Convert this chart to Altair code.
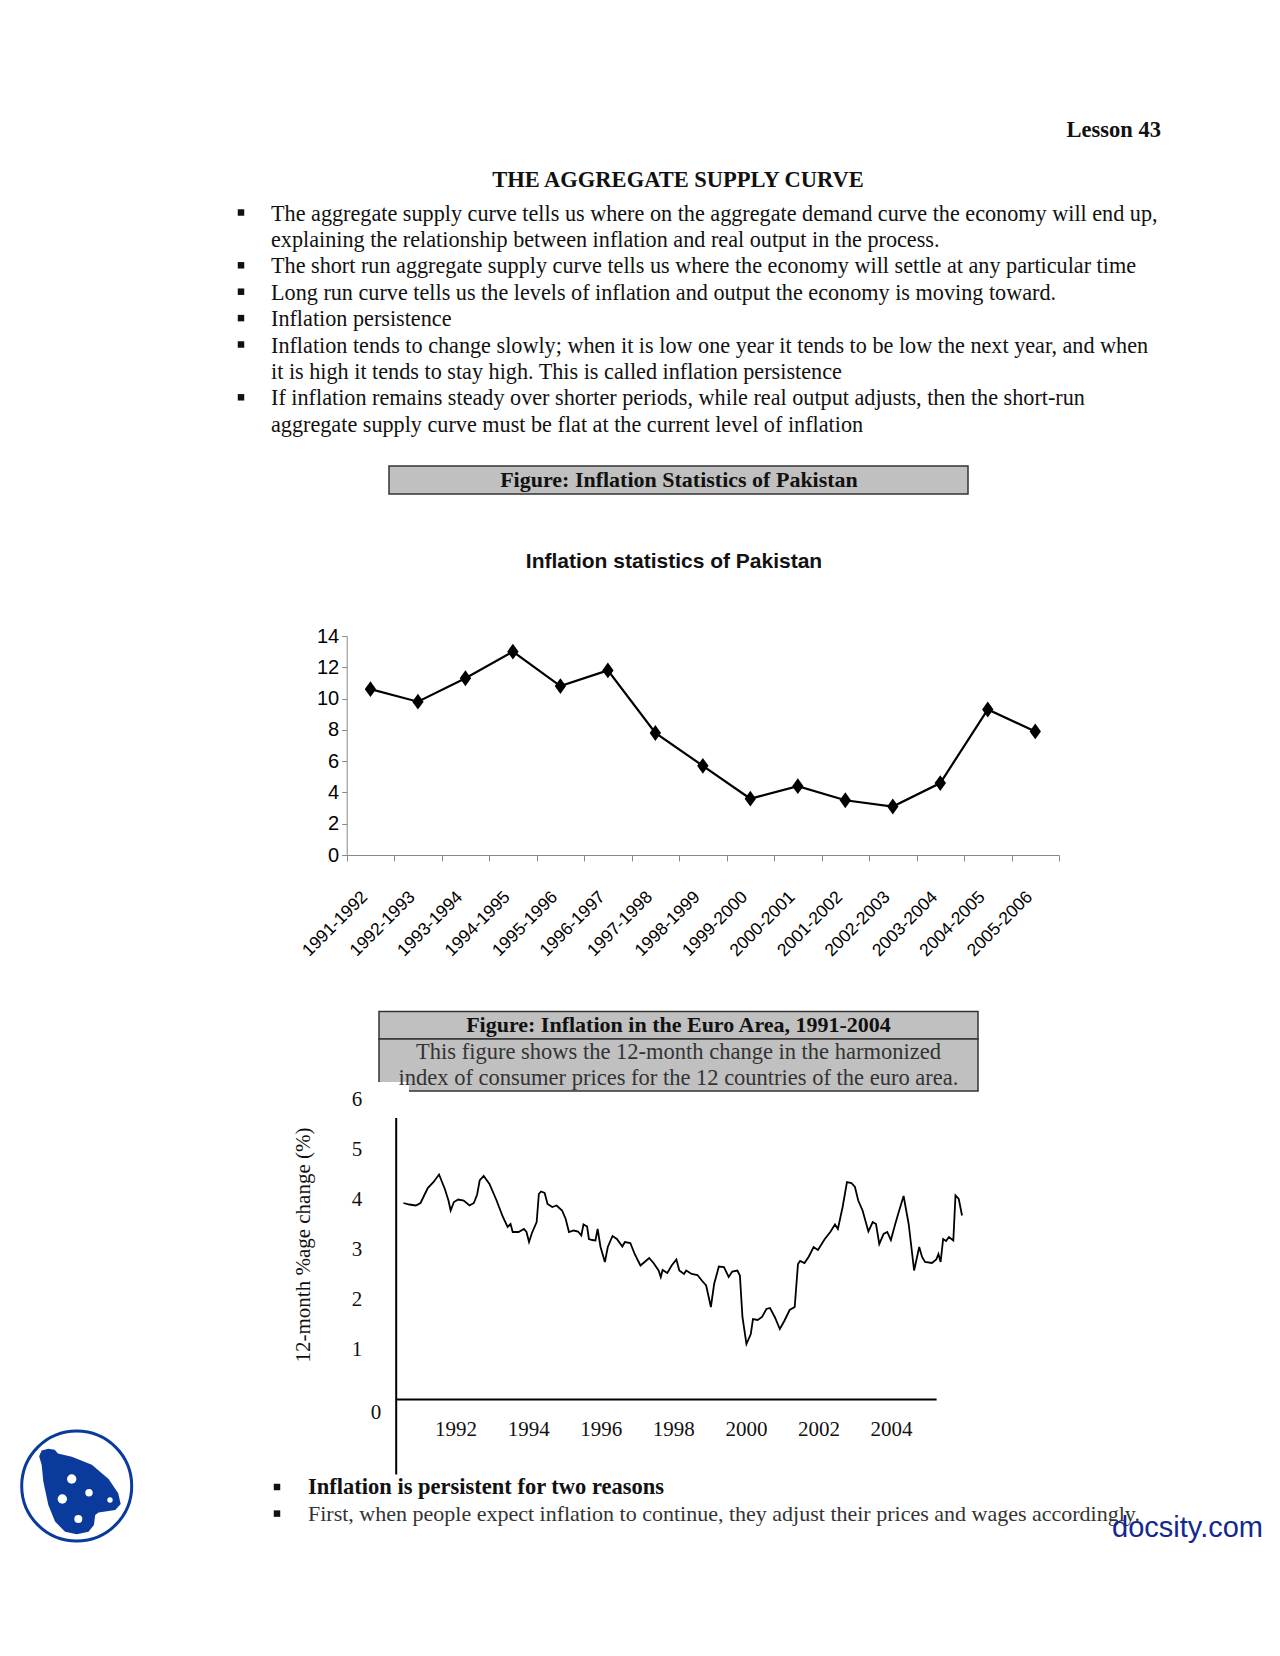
import altair as alt
import pandas as pd

# ---------------- data ----------------
pk_periods = ["1991-1992", "1992-1993", "1993-1994", "1994-1995", "1995-1996",
              "1996-1997", "1997-1998", "1998-1999", "1999-2000", "2000-2001",
              "2001-2002", "2002-2003", "2003-2004", "2004-2005", "2005-2006"]
pk_inflation = [10.6, 9.8, 11.3, 13.0, 10.8, 11.8, 7.8, 5.7, 3.6, 4.4, 3.5, 3.1, 4.6, 9.3, 7.9]
pk_ticks = [0, 2, 4, 6, 8, 10, 12, 14]

euro_time = [
    1990.55, 1990.71, 1990.89, 1991.02, 1991.14, 1991.22, 1991.38, 1991.53, 1991.69, 1991.79,
    1991.85, 1991.94, 1992.06, 1992.21, 1992.37, 1992.49, 1992.58, 1992.65, 1992.76, 1992.92,
    1993.11, 1993.29, 1993.42, 1993.50, 1993.56, 1993.72, 1993.87, 1993.94, 1994.01, 1994.09,
    1994.22, 1994.28, 1994.34, 1994.44, 1994.52, 1994.65, 1994.77, 1994.92, 1995.02, 1995.11,
    1995.24, 1995.36, 1995.45, 1995.51, 1995.61, 1995.66, 1995.75, 1995.84, 1995.90, 1995.98,
    1996.10, 1996.18, 1996.31, 1996.43, 1996.58, 1996.65, 1996.80, 1996.92, 1997.08, 1997.21,
    1997.32, 1997.44, 1997.58, 1997.64, 1997.69, 1997.82, 1997.94, 1998.07, 1998.15, 1998.28,
    1998.34, 1998.49, 1998.65, 1998.77, 1998.89, 1999.02, 1999.11, 1999.24, 1999.38, 1999.51,
    1999.61, 1999.75, 1999.82, 1999.89, 2000.00, 2000.12, 2000.18, 2000.31, 2000.43, 2000.55,
    2000.65, 2000.78, 2000.92, 2001.05, 2001.19, 2001.33, 2001.42, 2001.48, 2001.60, 2001.72,
    2001.85, 2001.97, 2002.15, 2002.31, 2002.44, 2002.52, 2002.65, 2002.77, 2002.89, 2002.99,
    2003.08, 2003.20, 2003.36, 2003.48, 2003.57, 2003.66, 2003.78, 2003.88, 2003.98, 2004.10,
    2004.18, 2004.33, 2004.47, 2004.62, 2004.76, 2004.84, 2004.92, 2005.11, 2005.23, 2005.29,
    2005.35, 2005.42, 2005.50, 2005.58, 2005.70, 2005.76, 2005.85, 2005.94]
euro_value = [
    3.93, 3.90, 3.88, 3.93, 4.11, 4.23, 4.35, 4.50, 4.21, 3.98,
    3.78, 3.95, 4.00, 3.98, 3.88, 3.93, 4.10, 4.38, 4.47, 4.31,
    3.99, 3.65, 3.45, 3.51, 3.35, 3.35, 3.41, 3.35, 3.15, 3.33,
    3.55, 4.11, 4.16, 4.13, 3.91, 3.85, 3.88, 3.78, 3.61, 3.35,
    3.38, 3.36, 3.28, 3.50, 3.46, 3.21, 3.19, 3.18, 3.41, 3.05,
    2.75, 3.05, 3.27, 3.21, 3.06, 3.15, 3.13, 2.91, 2.68, 2.76,
    2.83, 2.73, 2.58, 2.45, 2.59, 2.53, 2.68, 2.80, 2.58, 2.51,
    2.58, 2.51, 2.49, 2.38, 2.28, 1.85, 2.31, 2.66, 2.65, 2.45,
    2.56, 2.58, 2.48, 1.65, 1.11, 1.31, 1.61, 1.59, 1.65, 1.81,
    1.83, 1.65, 1.41, 1.58, 1.79, 1.85, 2.71, 2.77, 2.73, 2.86,
    3.05, 2.99, 3.20, 3.35, 3.50, 3.41, 3.85, 4.35, 4.33, 4.25,
    3.98, 3.78, 3.36, 3.55, 3.51, 3.11, 3.31, 3.35, 3.19, 3.51,
    3.71, 4.07, 3.51, 2.58, 3.05, 2.85, 2.75, 2.73, 2.80, 2.91,
    2.75, 3.21, 3.17, 3.25, 3.18, 4.08, 4.01, 3.68]
euro_year_labels = [1992, 1994, 1996, 1998, 2000, 2002, 2004]
euro_value_labels = [1, 2, 3, 4, 5, 6]
euro_axis_x = [1990.35, 2005.24]      # extent of the drawn horizontal axis (years)
euro_axis_y = [-1.5, 5.63]            # extent of the drawn vertical axis (values)

bullet_lines = [
    "The aggregate supply curve tells us where on the aggregate demand curve the economy will end up,",
    "explaining the relationship between inflation and real output in the process.",
    "The short run aggregate supply curve tells us where the economy will settle at any particular time",
    "Long run curve tells us the levels of inflation and output the economy is moving toward.",
    "Inflation persistence",
    "Inflation tends to change slowly; when it is low one year it tends to be low the next year, and when",
    "it is high it tends to stay high.  This is called inflation persistence",
    "If inflation remains steady over shorter periods, while real output adjusts, then the short-run",
    "aggregate supply curve must be flat at the current level of inflation",
]
bullet_marks = [0, 2, 3, 4, 5, 7]

W, H = 1264, 1640
SERIF = "Liberation Serif"
SANS = "Liberation Sans"
one = pd.DataFrame({"k": [0]})


def txt(s, x, y, size=20, weight="normal", align="left", font=SERIF, color="#111", angle=0):
    return alt.Chart(one).mark_text(
        text=s, font=font, fontSize=size, fontWeight=weight, align=align,
        baseline="middle", color=color, angle=angle
    ).encode(x=alt.value(x), y=alt.value(y))


def box(x1, x2, y1, y2, fill="#c0c0c0", stroke="#333", sw=1.5):
    kw = dict(fill=fill)
    if stroke:
        kw.update(stroke=stroke, strokeWidth=sw)
    return alt.Chart(one).mark_rect(**kw).encode(
        x=alt.value(x1), x2=alt.value(x2), y=alt.value(y1), y2=alt.value(y2))


def sq(x, y, size=42):
    return alt.Chart(one).mark_point(shape="square", size=size, filled=True, color="#111", opacity=1).encode(
        x=alt.value(x), y=alt.value(y))


layers = []
# header
layers.append(txt("Lesson 43", 1153, 122, size=22.5, weight="bold", align="right"))
layers.append(txt("THE AGGREGATE SUPPLY CURVE", 670, 172, size=22.5, weight="bold", align="center"))
for i, line in enumerate(bullet_lines):
    y = 205.5 + i * 26.4
    layers.append(txt(line, 263, y, size=22.2))
    if i in bullet_marks:
        layers.append(sq(233, y - 1))

# figure box 1
layers.append(box(381, 960, 458, 486))
layers.append(txt("Figure: Inflation Statistics of Pakistan", 671, 472, size=22, weight="bold", align="center"))
layers.append(txt("Inflation statistics of Pakistan", 666, 554, size=21, weight="bold",
                  align="center", font=SANS))

# ---------------- chart 1 ----------------
pk = pd.DataFrame({"period": pk_periods, "inflation": pk_inflation})
x1 = alt.X("period:N", sort=None,
           scale=alt.Scale(domain=pk_periods, range=[338.7, 1051], paddingInner=0, paddingOuter=0),
           axis=alt.Axis(orient="bottom", offset=-(H - 847), tickBand="extent", labelAngle=-45,
                         labelAlign="right", labelBaseline="middle", labelPadding=33, labelOffset=-6,
                         tickSize=6, tickColor="#888", domainColor="#888", labelFont=SANS,
                         labelFontSize=17.5, labelColor="black", title=None, grid=False,
                         labelOverlap=False))
y1 = alt.Y("inflation:Q",
           scale=alt.Scale(domain=[0, 14], range=[847, 628], nice=False, zero=False),
           axis=alt.Axis(orient="left", offset=-338.7, values=pk_ticks, tickSize=5, tickColor="#888",
                         domainColor="#888", labelFont=SANS, labelFontSize=20, labelColor="black",
                         labelPadding=3, title=None, grid=False))
diamond = "M0,-1L0.72,0L0,1L-0.72,0Z"
chart1 = alt.layer(
    alt.Chart(pk).mark_line(color="black", strokeWidth=2.2).encode(x=x1, y=y1),
    alt.Chart(pk).mark_point(shape=diamond, size=250, filled=True, color="black", opacity=1).encode(x=x1, y=y1),
)

# figure box 2
layers.append(box(371, 970, 1003.5, 1031))
layers.append(box(371, 970, 1031, 1083))
layers.append(box(368, 401, 1074, 1086, fill="white", stroke=None))
layers.append(txt("Figure: Inflation in the Euro Area, 1991-2004", 670.5, 1017, size=22, weight="bold", align="center"))
layers.append(txt("This figure shows the 12-month change in the harmonized", 670.5, 1044, size=22.5, align="center", color="#333"))
layers.append(txt("index of consumer prices for the 12 countries of the euro area.", 670.5, 1070, size=22.5, align="center", color="#333"))

# ---------------- chart 2 ----------------
xs2 = alt.Scale(domain=[1990, 2006], range=[375.5, 956.2], nice=False, zero=False)
ys2 = alt.Scale(domain=[0, 6], range=[1391.5, 1091.5], nice=False, zero=False)
eu = pd.DataFrame({"t": euro_time, "v": euro_value})
haxis = pd.DataFrame({"x": [euro_axis_x[0]], "x2": [euro_axis_x[1]], "y": [0]})
vaxis = pd.DataFrame({"x": [euro_axis_x[0]], "y": [euro_axis_y[0]], "y2": [euro_axis_y[1]]})
ylab = pd.DataFrame({"v": euro_value_labels, "s": [str(v) for v in euro_value_labels]})
zlab = pd.DataFrame({"v": [0], "s": ["0"]})
xlab = pd.DataFrame({"t": euro_year_labels, "s": [str(v) for v in euro_year_labels]})
chart2 = alt.layer(
    alt.Chart(haxis).mark_rule(color="black", strokeWidth=2).encode(
        x=alt.X("x:Q", scale=xs2, axis=None), x2="x2:Q", y=alt.Y("y:Q", scale=ys2, axis=None)),
    alt.Chart(vaxis).mark_rule(color="black", strokeWidth=2).encode(
        x=alt.X("x:Q", scale=xs2, axis=None), y=alt.Y("y:Q", scale=ys2, axis=None), y2="y2:Q"),
    alt.Chart(eu).mark_line(color="black", strokeWidth=1.8).encode(
        x=alt.X("t:Q", scale=xs2, axis=None), y=alt.Y("v:Q", scale=ys2, axis=None), order="t:Q"),
    alt.Chart(ylab).mark_text(font=SERIF, fontSize=21, align="center", baseline="middle", color="#111").encode(
        x=alt.value(349), y=alt.Y("v:Q", scale=ys2, axis=None), text="s:N"),
    alt.Chart(zlab).mark_text(font=SERIF, fontSize=21, align="center", baseline="middle", color="#111", dy=13).encode(
        x=alt.value(368), y=alt.Y("v:Q", scale=ys2, axis=None), text="s:N"),
    alt.Chart(xlab).mark_text(font=SERIF, fontSize=21, align="center", baseline="middle", color="#111").encode(
        x=alt.X("t:Q", scale=xs2, axis=None), y=alt.value(1422), text="s:N"),
)
layers.append(txt("12-month %age change (%)", 296, 1237, size=21, align="center", angle=270))

# bottom text
layers.append(sq(269, 1479))
layers.append(txt("Inflation is persistent for two reasons", 300, 1479, size=22.5, weight="bold"))
layers.append(sq(269, 1505.6))
layers.append(txt("First, when people expect inflation to continue, they adjust their prices and wages accordingly.",
                  300, 1505.6, size=22, color="#333"))

# logo + watermark
BLUE = "#0a3a9c"
blob = ("M-0.96,-0.84L-0.90,-0.98L-0.74,-1.02L-0.59,-1.0L-0.51,-0.91L-0.18,-0.83L0.30,-0.64"
        "L0.70,-0.30L0.93,0.04L0.99,0.30L0.86,0.44L0.46,0.50L0.38,0.56L0.35,0.80L0.22,0.96"
        "L-0.06,1.02L-0.34,0.96L-0.58,0.72L-0.74,0.32L-0.86,-0.24L-0.90,-0.64Z")
layers.append(alt.Chart(one).mark_point(shape="circle", size=12100, filled=False, stroke=BLUE,
                                        strokeWidth=3, opacity=1).encode(x=alt.value(68.7), y=alt.value(1478)))
layers.append(alt.Chart(one).mark_point(shape=blob, size=7000, filled=True, color=BLUE, opacity=1).encode(
    x=alt.value(71.3), y=alt.value(1483.5)))
for (dx, dy, s) in [(63.7, 1471, 88), (81, 1484.7, 55), (54.3, 1491, 88), (70.3, 1511, 64), (102, 1492, 29)]:
    layers.append(alt.Chart(one).mark_point(shape="circle", size=s, filled=True, color="white", opacity=1).encode(
        x=alt.value(dx), y=alt.value(dy)))
layers.append(alt.Chart(one).mark_text(text="docsity.com", font=SANS, fontSize=29, align="right",
                                       baseline="alphabetic", color="#13288f").encode(
    x=alt.value(1255), y=alt.value(1529)))

chart = alt.layer(*layers, chart1, chart2).resolve_scale(x="independent", y="independent").properties(
    width=W, height=H, autosize=alt.AutoSizeParams(type="none"), padding=0, background="white"
).configure_view(stroke=None)

chart.save("out.html", embed_options={"renderer": "svg", "actions": False})
